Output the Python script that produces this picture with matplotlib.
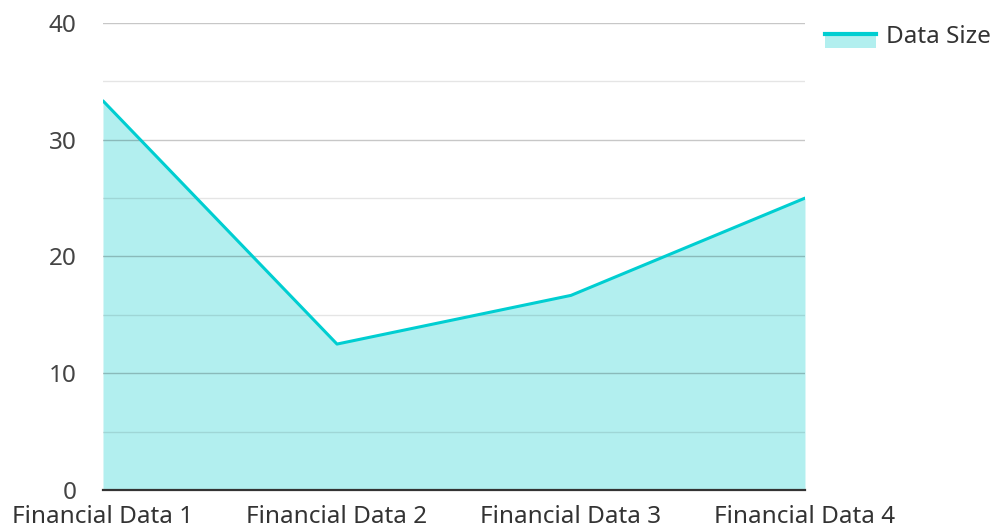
import matplotlib
matplotlib.use("Agg")
import matplotlib.pyplot as plt
from matplotlib.patches import Rectangle
from matplotlib.lines import Line2D
from matplotlib.legend_handler import HandlerBase

categories = ["Financial Data 1", "Financial Data 2", "Financial Data 3", "Financial Data 4"]
data_size = [33.33, 12.5, 16.67, 25.0]
series_name = "Data Size"

line_color = "#00CED1"
fill_color = "#B2EFEF"

plt.rcParams["font.family"] = ["Noto Sans", "DejaVu Sans"]


class AreaHandler(HandlerBase):
    # legend key: filled block with the line on its top edge
    def create_artists(self, legend, orig_handle, xdescent, ydescent,
                       width, height, fontsize, trans):
        rect = Rectangle((-xdescent, -ydescent - height * 0.3), width, height * 0.75,
                         facecolor=fill_color, edgecolor="none", transform=trans)
        line = Line2D([-xdescent, -xdescent + width], [height * 0.5, height * 0.5],
                      color=line_color, lw=3, transform=trans)
        return [rect, line]


fig = plt.figure(figsize=(9.98, 5.31), dpi=100)
ax = fig.add_axes([0.1032, 0.0772, 0.7034, 0.8795])

x = list(range(len(categories)))
ax.fill_between(x, data_size, 0, color=fill_color, lw=0, zorder=1)
ln, = ax.plot(x, data_size, color=line_color, lw=2.2, zorder=3, solid_capstyle="round")

ax.set_xlim(0, len(categories) - 1)
ax.set_ylim(0, 40)
ax.set_yticks([0, 10, 20, 30, 40])
ax.set_yticks([5, 15, 25, 35], minor=True)
ax.set_xticks(x)
ax.set_xticklabels(categories)

ax.grid(True, axis="y", which="major", color="black", alpha=0.22, lw=1, zorder=2)
ax.grid(True, axis="y", which="minor", color="black", alpha=0.1, lw=1, zorder=2)
ax.set_axisbelow(False)

for s in ["top", "right", "left"]:
    ax.spines[s].set_visible(False)
ax.spines["bottom"].set_color("#333333")
ax.spines["bottom"].set_linewidth(1.6)
ax.spines["bottom"].set_zorder(4)

ax.tick_params(axis="y", which="both", length=0, pad=19, labelsize=17.5, labelcolor="#444444")
ax.tick_params(axis="x", length=0, pad=11, labelsize=17.5, labelcolor="#333333")

fig.legend([ln], [series_name], handler_map={ln: AreaHandler()},
           loc="upper left", bbox_to_anchor=(0.805, 0.995), frameon=False,
           fontsize=17.5, handlelength=2.1, handletextpad=0.4, labelcolor="#333333")

fig.savefig("out.png", dpi=100)
